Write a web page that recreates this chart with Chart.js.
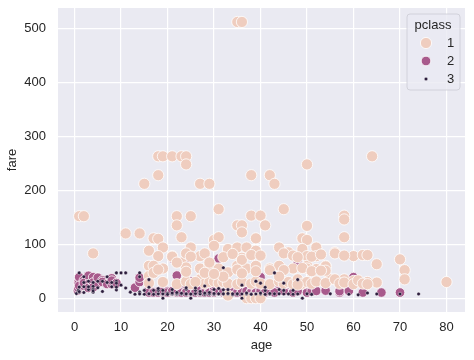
<!DOCTYPE html>
<html>
<head>
<meta charset="utf-8">
<script src="https://cdn.jsdelivr.net/npm/chart.js@4.4.1/dist/chart.umd.min.js"></script>
<style>
    body { margin: 0; background: #ffffff; }
    #wrap { width: 474px; height: 360px; position: relative; }
</style>
</head>
<body>
<div id="wrap"><canvas id="scatterChart"></canvas></div>
<script>
// Tick labels
const ageTicks = [0, 10, 20, 30, 40, 50, 60, 70, 80];
const fareTicks = [0, 100, 200, 300, 400, 500];
const classNames = ['1', '2', '3'];

// [age, fare], one list per class
const firstClass = [
    [35,512],[36,512],
    [18,263],[19,263],[21,263],[23,263],[24,263],[64,263],
    [24,248],[50,248],
    [18,228],[38,228],[42,228],
    [15,212],[27,212],[29,212],[43,212],
    [31,165],[45,165],
    [1,152],[2,152],[22,152],[25,152],[38,153],[40,153],[58,153],
    [58,146],[22,135],[35,135],[36,135],[41,135],[50,134],
    [36,122],[11,120],[14,120],[58,113],[17,111],[18,110],[23,113],[39,111],[49,111],[50,108],[30,108],[31,113],
    [4,83],[16,88],[19,94],[18,78],[21,78],[25,94],[27,78],[30,97],[33,91],[35,94],[37,94],[39,88],[36,75],[44,94],
    [46,85],[49,91],[52,94],[52,78],[50,78],[56,85],[60,78],[62,80],[63,80],[65,63],[70,72],[71,52],[71,35],[80,30],
    [16,60],[17,60],[19,55],[16,41],[23,66],[24,57],[27,55],[29,60],[31,55],[33,48],[35,60],[37,55],[39,60],[42,55],
    [44,60],[47,55],[50,60],[52,54],[54,60],[55,35],[58,35],[60,32],[63,30],[65,29],
    [16,28],[19,30],[22,26],[24,31],[25,26],[27,35],[28,27],[29,30],[30,31],[31,28],[32,30],[33,27],[35,26],[36,30],
    [38,27],[39,31],[40,27],[42,26],[44,31],[45,27],[46,30],[47,26],[48,35],[49,27],[50,30],[51,27],[52,31],[54,28],
    [56,35],[57,27],[58,29],[60,26],[61,33],[62,27],[63,26],
    [33,5],[37,0],[38,0],[39,0],[40,0],
    [26,30],[21,77],[22,66],[24,83],[25,77],[28,83],[29,66],[32,76],[34,82],[36,71],[38,80],[40,79],[45,83],[47,79],
    [48,76],[50,55],[51,77],[53,81],[54,59],[56,83],[58,79],[32,40],[35,53],[45,52],[24,49],[28,47],[30,45],[36,46],
    [39,50],[42,52],[44,40],[17,47],[18,53],[49,56],[51,50],[54,51],[48,25],[53,51]
];

const secondClass = [
    [0.7,14.5],[0.8,29],[0.8,18.75],[0.9,27],[1,39],[1,23],[2,33],[2,23],[2,28],[3,41.6],[3,26],[3,19],[4,39],[4,29],
    [4,20],[5,27.75],[5,38],[6,33],[6,30],[7,26.25],[8,36.75],[8,26],[8,32.5],[9,28],
    [13,19.5],[14,30],[14,38],[16,17],[16,10.5],[17,10.5],[18,13],[18,11.5],[18,10.5],[19,26],[19,10.5],[19,13],
    [20,13],[20,10.5],[21,73.5],[21,11.5],[21,13],[22,42],[22,10.5],[22,13],[23,13],[23,15],[23,10.5],[24,73.5],
    [24,13],[24,26],[24,10.5],[25,10.5],[25,13],[25,31],[26,26],[26,13],[26,10.5],[27,10.5],[27,13],[27,21],[28,13],
    [28,26],[28,33],[28,10.5],[29,13],[29,26],[29,10.5],[30,10.5],[30,13],[30,21],[30,26],[31,73.5],[31,13],
    [31,26.25],[32,10.5],[32,13],[32,26],[33,12.3],[33,26],[33,10.5],[34,13],[34,21],[34,10.5],[35,10.5],[35,26],
    [36,13],[36,26],[36,10.5],[37,26],[37,13],[38,13],[38,10.5],[39,26],[39,13],[39,10.5],[40,16],[40,39],[40,13],
    [41,19.5],[41,10.5],[42,13],[42,27],[43,10.5],[44,26],[45,13.5],[46,26],[47,10.5],[48,65],[48,13],[50,10.5],
    [50,26],[51,12.5],[52,13.5],[54,26],[54,14],[57,10.5],[57,13],[59,13.5],[60,39],[62,10.5],[66,10.5],[70,10.5]
];

const thirdClass = [
    [0.4,8.5],[0.8,14.4],[1,46.9],[1,11.1],[1,20.6],[1,12.2],[2,29],[2,39.7],[2,21.1],[2,10.5],[3,15.9],[3,31.4],
    [3,21.1],[4,16.7],[4,29.1],[4,11.1],[4,13.4],[4,22],[5,19.3],[5,31.4],[6,12.5],[6,31.3],[7,39.7],[7,29.1],
    [8,21.1],[8,29.1],[9,46.9],[9,31.4],[9,27.9],[9,15.2],[9,20.5],[10,46.9],[10,24.2],[11,46.9],[11,18.8],[12,11.2],
    [13,7.2],[14,46.9],[14,11.2],[14,39.7],[14,7.9],[15,7.2],[15,14.5],[16,7.7],[16,8.1],[16,20.2],[16,34.4],[17,7.9],
    [17,14.5],[17,7.1],[18,7.8],[18,8.1],[18,14.5],[18,17.8],[19,7.9],[19,8.05],[19,0],[19,14.5],[20,7.9],[20,9.2],
    [20,7.05],[21,7.8],[21,8.05],[21,9.8],[21,16.1],[22,7.25],[22,7.8],[22,9],[22,10.5],[23,7.9],[23,9.2],[24,7.1],
    [24,8.05],[24,16.7],[24,19.3],[25,7.25],[25,7.65],[25,0],[26,7.9],[26,8.7],[26,14.5],[26,18.8],[27,7.8],[27,8.05],
    [27,12.5],[28,7.9],[28,7.25],[28,9.5],[28,22.5],[29,7.75],[29,8.05],[29,10.5],[30,7.2],[30,8.7],[30,16.1],
    [31,7.75],[31,8.05],[31,18],[32,7.9],[32,8.05],[32,15.5],[32,56.5],[33,7.9],[33,8.65],[33,15.85],[34,6.5],
    [34,8.05],[35,7.1],[35,8.05],[36,7.9],[36,0],[36,24.15],[37,7.9],[37,9.6],[38,7.9],[38,7.2],[39,7.9],[39,31.3],
    [39,31.4],[40,7.9],[40,9.5],[40,27.9],[41,7.1],[41,14.1],[41,20.2],[42,7.55],[42,8.65],[43,8.05],[43,46.9],
    [44,8.05],[44,16.1],[45,7.75],[45,14.45],[45,27.9],[46,7.9],[47,7.25],[47,14.5],[48,7.85],[48,34.4],[49,0],
    [50,8.05],[51,7.05],[55,8.05],[59,7.25],[61,6.2],[63,9.6],[65,7.75],[70,7.75],[74,7.8]
];

const classColors = ['#EFCDBF', '#A85A8C', '#2D1E3E'];
const classRadius = [5.6, 4.8, 1.8];
const FONT = "'Liberation Sans', Arial, sans-serif";
const TEXT = '#262626';

document.addEventListener('DOMContentLoaded', function() {
    createScatter(document.getElementById('scatterChart').getContext('2d'));
});

// grey panel behind the points, like seaborn darkgrid
const panelBackground = {
    id: 'panelBackground',
    beforeDraw(chart) {
        const {ctx, chartArea: a} = chart;
        ctx.save();
        ctx.fillStyle = '#EAEAF2';
        ctx.fillRect(a.left, a.top, a.right - a.left, a.bottom - a.top);
        ctx.restore();
    }
};

// legend box in the top right corner of the panel
const innerLegend = {
    id: 'innerLegend',
    afterDraw(chart) {
        const ctx = chart.ctx;
        const a = chart.chartArea;
        const boxR = a.right - 5, boxL = boxR - 53, boxT = a.top + 6, boxB = boxT + 76;
        ctx.save();
        ctx.beginPath();
        ctx.roundRect(boxL, boxT, boxR - boxL, boxB - boxT, 3);
        ctx.fillStyle = 'rgba(234,234,242,0.8)';
        ctx.fill();
        ctx.strokeStyle = '#CCCCD4';
        ctx.lineWidth = 0.8;
        ctx.stroke();

        ctx.fillStyle = TEXT;
        ctx.font = '13px ' + FONT;
        ctx.textBaseline = 'middle';
        ctx.textAlign = 'center';
        ctx.fillText('pclass', boxL + 26, boxT + 11);

        chart.data.datasets.forEach((ds, i) => {
            const y = boxT + 29 + i * 18;
            ctx.beginPath();
            ctx.arc(boxL + 19, y, ds.pointRadius, 0, Math.PI * 2);
            ctx.fillStyle = ds.backgroundColor;
            ctx.fill();
            ctx.strokeStyle = '#ffffff';
            ctx.lineWidth = ds.borderWidth;
            ctx.stroke();
            ctx.fillStyle = TEXT;
            ctx.textAlign = 'left';
            ctx.fillText(classNames[i], boxL + 40, y);
        });
        ctx.restore();
    }
};

function toPoints(list) {
    return list.map(p => ({x: p[0], y: p[1]}));
}

function createScatter(ctx) {
    const lists = [firstClass, secondClass, thirdClass];
    // draw order: class 3 on top, then class 1, class 2 underneath
    const drawOrder = [1, 2, 0];
    new Chart(ctx, {
        type: 'scatter',
        data: {
            datasets: lists.map((list, i) => ({
                label: classNames[i],
                data: toPoints(list),
                backgroundColor: classColors[i],
                borderColor: '#ffffff',
                borderWidth: i === 2 ? 0.4 : 0.8,
                pointRadius: classRadius[i],
                pointHoverRadius: classRadius[i],
                order: drawOrder[i]
            }))
        },
        options: {
            responsive: true,
            maintainAspectRatio: false,
            animation: false,
            devicePixelRatio: 1,
            layout: {
                padding: {left: 0, top: 8, right: 9, bottom: 0}
            },
            plugins: {
                legend: { display: false },
                tooltip: { enabled: false }
            },
            scales: {
                x: {
                    type: 'linear',
                    min: -3.56,
                    max: 83.98,
                    afterBuildTicks: s => { s.ticks = ageTicks.map(v => ({value: v})); },
                    afterFit: s => { s.height = 48; },
                    grid: { color: '#ffffff', lineWidth: 1.2, drawTicks: false },
                    border: { display: false },
                    ticks: { color: TEXT, font: {family: FONT, size: 13}, padding: 8, maxRotation: 0 },
                    title: {
                        display: true,
                        text: 'age',
                        color: TEXT,
                        font: {family: FONT, size: 13},
                        padding: {top: 0, bottom: 7}
                    }
                },
                y: {
                    type: 'linear',
                    min: -25.6,
                    max: 537.9,
                    afterBuildTicks: s => { s.ticks = fareTicks.map(v => ({value: v})); },
                    afterFit: s => {
                        s.width = 58;
                        // no extra room for the top label, the panel starts right at the padding
                        s.paddingTop = 0;
                        s.paddingBottom = 0;
                    },
                    grid: { color: '#ffffff', lineWidth: 1.2, drawTicks: false },
                    border: { display: false },
                    ticks: { color: TEXT, font: {family: FONT, size: 13}, padding: 12 },
                    title: {
                        display: true,
                        text: 'fare',
                        color: TEXT,
                        font: {family: FONT, size: 13},
                        padding: {top: 5, bottom: 0}
                    }
                }
            }
        },
        plugins: [panelBackground, innerLegend]
    });
}
</script>
</body>
</html>
